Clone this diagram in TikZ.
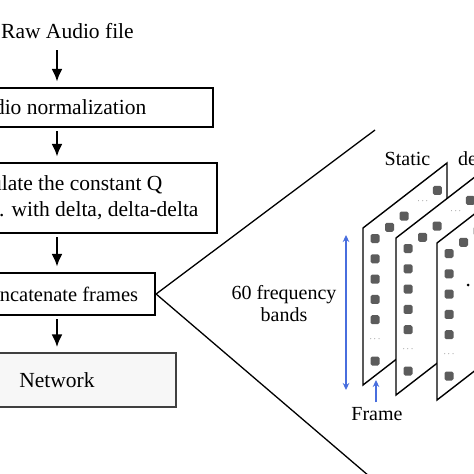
\documentclass[tikz,border=0pt]{standalone}
\usepackage{fontspec}
\setmainfont{Liberation Serif}
\usepackage{xcolor}
\usetikzlibrary{arrows.meta, calc, positioning}

\definecolor{bandblue}{RGB}{72,110,222}
\definecolor{cellgray}{RGB}{92,92,92}

\tikzset{
  stepbox/.style={draw, line width=2.2pt, fill=white, inner sep=0pt,
    font=\fontsize{21.5}{26}\selectfont, align=center},
  netbox/.style={draw=black!75, line width=1.2pt, fill=black!3, inner sep=0pt,
    font=\fontsize{21.5}{26}\selectfont},
  flow/.style={-{Latex[length=13pt,width=11pt]}, line width=2.8pt,
    shorten <=3pt, shorten >=5pt},
  txt/.style={font=\fontsize{20}{22}\selectfont, align=center, inner sep=0pt},
  cell/.style={fill=cellgray, rounded corners=1.6pt},
  dots/.style={font=\fontsize{9}{9}\selectfont, text=black!70, inner sep=0pt},
  bandarrow/.style={bandblue, line width=1.8pt},
}

\begin{document}
\begin{tikzpicture}[x=1pt, y=-1pt]
    \useasboundingbox (0,0) rectangle (474,474);
    \clip (0,0) rectangle (474,474);

    % Các bước xử lý
    \coordinate (col) at (57,0);
    \node[txt, font=\fontsize{21.5}{24}\selectfont, anchor=base west] (raw) at (1,38) {Raw Audio file};
    \node[stepbox, minimum width=312pt, minimum height=39pt] (norm) at (57,107.5) {Audio normalization};
    \node[stepbox, minimum width=320pt, minimum height=70pt] (cqt) at (57,198)
        {Calculate the constant Q\\transform. with delta, delta-delta};
    \node[stepbox, font=\fontsize{20.5}{24}\selectfont, minimum width=196pt, minimum height=42pt] (concat) at (57,294) {Concatenate frames};
    \node[netbox, minimum width=238pt, minimum height=54pt] (net) at (57,380) {Network};

    \draw[flow, shorten <=12pt] (raw.south -| col) -- (norm.north -| col);
    \draw[flow] (norm.south -| col) -- (cqt.north -| col);
    \draw[flow] (cqt.south -| col) -- (concat.north -| col);
    \draw[flow] (concat.south -| col) -- (net.north -| col);

    % Phóng to khung
    \coordinate (zoomtop) at (375,130);
    \coordinate (zoombot) at (369,476);
    \draw[line width=1.3pt] (zoomtop) -- (concat.east) -- (zoombot);

    % Ba lớp đặc trưng
    \foreach \px/\py in {363/228, 396/238, 437/243} {
      \begin{scope}[shift={(\px,\py)}]
        \draw[line width=1.4pt, fill=white] (0,0) -- (84,-65) -- (84,92) -- (0,157) -- cycle;
        \foreach \k in {0,...,4}
          \fill[cell] (7.5,6+20.3*\k) rectangle ++(9,9);
        \node[dots] at (12,111) {$\cdots$};
        \fill[cell] (7.5,128.5) rectangle ++(9,9);
        \foreach \k in {1,2,4.3}
          \fill[cell] ($(7.5,6)+\k*(14.5,-11.2)$) rectangle ++(9,9);
        \node[dots] at ($(12,10.5)+3.3*(14.5,-11.2)$) {$\cdots$};
      \end{scope}
    }
    \fill (468,285) circle (1.5);

    % Nhãn
    \node[txt, anchor=base] (static) at (407.5,165) {Static};
    \node[txt, anchor=base west] (delta) at (458,165) {delta};
    \node[txt] (bands) at (284,303.3) {60 frequency\\bands};
    \node[txt, anchor=base] (frame) at (377,420.7) {Frame};

    % Mũi tên xanh
    \coordinate (bandtop) at (346,235);
    \coordinate (bandbot) at (346,390);
    \coordinate (framecell) at (376,380);
    \draw[bandarrow, {Stealth[length=7pt,width=6.5pt]}-{Stealth[length=7pt,width=6.5pt]}] (bandbot) -- (bandtop);
    \draw[bandarrow, -{Stealth[length=7pt,width=6.5pt]}, shorten <=5pt] (frame.north -| framecell) -- (framecell);
\end{tikzpicture}
\end{document}
